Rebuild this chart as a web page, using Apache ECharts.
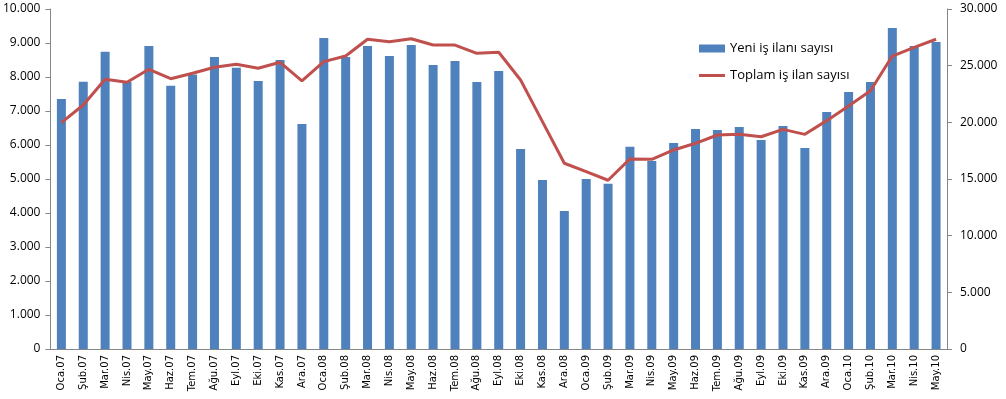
<!DOCTYPE html>
<html>
<head>
<meta charset="utf-8">
<script src="https://cdn.jsdelivr.net/npm/echarts@6/dist/echarts.min.js"></script>
<style>
  html, body { margin: 0; padding: 0; background: #fff; }
  #chart { width: 1006px; height: 399px; }
</style>
</head>
<body>
<div id="chart"></div>
<script>
// aylar
var months = [
  'Oca.07', 'Şub.07', 'Mar.07', 'Nis.07', 'May.07', 'Haz.07', 'Tem.07', 'Ağu.07', 'Eyl.07', 'Eki.07', 'Kas.07', 'Ara.07',
  'Oca.08', 'Şub.08', 'Mar.08', 'Nis.08', 'May.08', 'Haz.08', 'Tem.08', 'Ağu.08', 'Eyl.08', 'Eki.08', 'Kas.08', 'Ara.08',
  'Oca.09', 'Şub.09', 'Mar.09', 'Nis.09', 'May.09', 'Haz.09', 'Tem.09', 'Ağu.09', 'Eyl.09', 'Eki.09', 'Kas.09', 'Ara.09',
  'Oca.10', 'Şub.10', 'Mar.10', 'Nis.10', 'May.10'
];

// yeni iş ilanı sayısı (sol eksen)
var newAds = [
  7350, 7860, 8740, 7850, 8910, 7740, 8070, 8590, 8270, 7880, 8500, 6620,
  9150, 8590, 8910, 8620, 8940, 8350, 8470, 7850, 8180, 5880, 4970, 4060,
  5000, 4860, 5950, 5530, 6060, 6470, 6440, 6530, 6150, 6560, 5910, 6970,
  7560, 7850, 9440, 8910, 9030
];

// toplam iş ilanı sayısı (sağ eksen)
var totalAds = [
  19970, 21530, 23800, 23530, 24680, 23850, 24330, 24860, 25120, 24770, 25300, 23650,
  25360, 25850, 27330, 27120, 27380, 26820, 26820, 26090, 26180, 23740, 20060, 16390,
  15650, 14890, 16770, 16740, 17560, 18150, 18880, 18940, 18730, 19380, 18940, 20150,
  21440, 22790, 25850, 26620, 27330
];

var seriesNames = ['Yeni iş ilanı sayısı', 'Toplam iş ilan sayısı'];

// 10000 -> 10.000
function fmt(v) {
  return String(v).replace(/\B(?=(\d{3})+(?!\d))/g, '.');
}

var axisColor = '#868686';
var labelFont = 'Open Sans';

var chart = echarts.init(document.getElementById('chart'));

var option = {
  backgroundColor: '#fff',
  animation: false,
  grid: {
    left: 49,
    right: 59,
    top: 9,
    bottom: 50
  },
  legend: {
    orient: 'vertical',
    left: 694,
    top: 37,
    itemWidth: 26,
    itemHeight: 8,
    itemGap: 14,
    textStyle: { fontFamily: labelFont, fontSize: 13, color: '#000' },
    data: [
      { name: seriesNames[0], icon: 'rect' },
      // legend icon for the line: plain thick stroke, no marker
      { name: seriesNames[1], icon: 'path://M0,0 L26,0 L26,3 L0,3 Z', itemStyle: { color: '#C0504D' } }
    ]
  },
  xAxis: {
    type: 'category',
    data: months,
    axisLine: { lineStyle: { color: axisColor } },
    axisTick: { lineStyle: { color: axisColor }, length: 5 },
    axisLabel: {
      interval: 0,
      rotate: 90,
      fontFamily: 'DejaVu Sans',
      fontSize: 10,
      color: '#000',
      margin: 6
    }
  },
  yAxis: [{
    type: 'value',
    min: 0,
    max: 10000,
    interval: 1000,
    splitLine: { show: false },
    axisLine: { show: true, lineStyle: { color: axisColor } },
    axisTick: { show: true, lineStyle: { color: axisColor }, length: 5 },
    axisLabel: { formatter: fmt, fontFamily: labelFont, fontSize: 12, color: '#000', margin: 10 }
  }, {
    type: 'value',
    min: 0,
    max: 30000,
    interval: 5000,
    position: 'right',
    splitLine: { show: false },
    axisLine: { show: true, lineStyle: { color: axisColor } },
    axisTick: { show: true, lineStyle: { color: axisColor }, length: 5 },
    axisLabel: { formatter: fmt, fontFamily: labelFont, fontSize: 12, color: '#000', margin: 13 }
  }],
  series: [{
    name: seriesNames[0],
    type: 'bar',
    yAxisIndex: 0,
    barWidth: 9,
    itemStyle: { color: '#4F81BD' },
    data: newAds
  }, {
    name: seriesNames[1],
    type: 'line',
    yAxisIndex: 1,
    symbol: 'none',
    lineStyle: { color: '#C0504D', width: 3 },
    itemStyle: { color: '#C0504D' },
    data: totalAds
  }]
};

chart.setOption(option);
</script>
</body>
</html>
